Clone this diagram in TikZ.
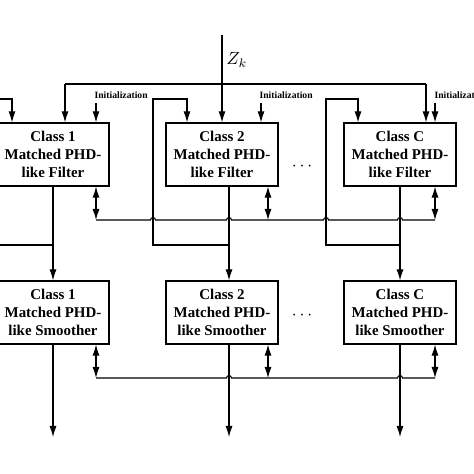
\documentclass[tikz,border=0pt]{standalone}
\usepackage{fontspec}
\setmainfont{Liberation Serif}
\usetikzlibrary{arrows.meta}

\begin{document}
\begin{tikzpicture}[
  >={Latex[length=2.2mm,width=1.4mm]},
  line width=0.6pt,
  block/.style={draw, line width=0.7pt, minimum width=2.24cm, minimum height=1.26cm,
    inner sep=0pt, align=center, font=\bfseries\fontsize{8.5}{10.4}\selectfont},
  init/.style={anchor=west, inner sep=0pt, font=\bfseries\fontsize{5.5}{6}\selectfont}
]
  \clip (0,0) rectangle (9.48,9.48);

  \node[block] (f1) at (1.06,6.39) {Class 1\\Matched PHD-\\like Filter};
  \node[block] (f2) at (4.44,6.39) {Class 2\\Matched PHD-\\like Filter};
  \node[block] (fc) at (8.00,6.39) {Class C\\Matched PHD-\\like Filter};
  \node[block] (s1) at (1.06,3.23) {Class 1\\Matched PHD-\\like Smoother};
  \node[block] (s2) at (4.44,3.23) {Class 2\\Matched PHD-\\like Smoother};
  \node[block] (sc) at (8.00,3.23) {Class C\\Matched PHD-\\like Smoother};
  \node (fdots) at (6.04,6.14) {$\cdots$};
  \node (sdots) at (6.04,3.16) {$\cdots$};

  % measurements in and initialization
  \coordinate (zin) at (4.44,8.78);
  \draw[->] (zin) -- (f2.north);
  \node (zk) at (4.74,8.28) {$Z_k$};
  \coordinate (t1) at (1.30,7.80);
  \coordinate (tc) at (8.52,7.80);
  \draw (t1) -- (tc);
  \draw[->] (t1) -- (t1 |- f1.north);
  \draw[->] (tc) -- (tc |- fc.north);

  \coordinate (i1) at (1.92,7.42);
  \coordinate (i2) at (5.22,7.42);
  \coordinate (ic) at (8.70,7.42);
  \draw[->] (i1) -- (i1 |- f1.north);
  \draw[->] (i2) -- (i2 |- f2.north);
  \draw[->] (ic) -- (ic |- fc.north);
  \node[init] (init1) at (1.88,7.58) {Initialization};
  \node[init] (init2) at (5.18,7.58) {Initialization};
  \node[init] (initc) at (8.68,7.58) {Initialization};

  % filter outputs and feedback
  \coordinate (o1) at (1.06,4.58);
  \coordinate (o2) at (4.58,4.58);
  \coordinate (oc) at (8.00,4.58);
  \coordinate (b1) at (-0.20,7.50);
  \coordinate (b2) at (3.06,7.50);
  \coordinate (bc) at (6.52,7.50);
  \coordinate (e1) at (0.24,7.50);
  \coordinate (e2) at (3.74,7.50);
  \coordinate (ec) at (7.16,7.50);
  \draw[->] (o1 |- f1.south) -- (o1 |- s1.north);
  \draw[->] (o2 |- f2.south) -- (o2 |- s2.north);
  \draw[->] (oc |- fc.south) -- (oc |- sc.north);
  \draw[->] (o1) -| (b1) -- (e1) -- (e1 |- f1.north);
  \draw[->] (o2) -| (b2) -- (e2) -- (e2 |- f2.north);
  \draw[->] (oc) -| (bc) -- (ec) -- (ec |- fc.north);

  % exchange between filters
  \coordinate (d1) at (1.92,5.08);
  \coordinate (d2) at (5.36,5.08);
  \coordinate (dc) at (8.70,5.08);
  \draw[<->] (d1 |- f1.south) -- (d1);
  \draw[<->] (d2 |- f2.south) -- (d2);
  \draw[<->] (dc |- fc.south) -- (dc);
  \draw (d1) -- (3.01,5.08) arc[start angle=180,end angle=0,radius=0.05]
    -- (4.53,5.08) arc[start angle=180,end angle=0,radius=0.05]
    -- (6.47,5.08) arc[start angle=180,end angle=0,radius=0.05]
    -- (7.95,5.08) arc[start angle=180,end angle=0,radius=0.05] -- (dc);

  % exchange between smoothers
  \coordinate (g1) at (1.92,1.92);
  \coordinate (g2) at (5.36,1.92);
  \coordinate (gc) at (8.70,1.92);
  \draw[<->] (g1 |- s1.south) -- (g1);
  \draw[<->] (g2 |- s2.south) -- (g2);
  \draw[<->] (gc |- sc.south) -- (gc);
  \draw (g1) -- (4.53,1.92) arc[start angle=180,end angle=0,radius=0.05]
    -- (7.95,1.92) arc[start angle=180,end angle=0,radius=0.05] -- (gc);

  % smoothed outputs
  \coordinate (r1) at (1.06,0.74);
  \coordinate (r2) at (4.58,0.74);
  \coordinate (rc) at (8.00,0.74);
  \draw[->] (r1 |- s1.south) -- (r1);
  \draw[->] (r2 |- s2.south) -- (r2);
  \draw[->] (rc |- sc.south) -- (rc);
\end{tikzpicture}
\end{document}
